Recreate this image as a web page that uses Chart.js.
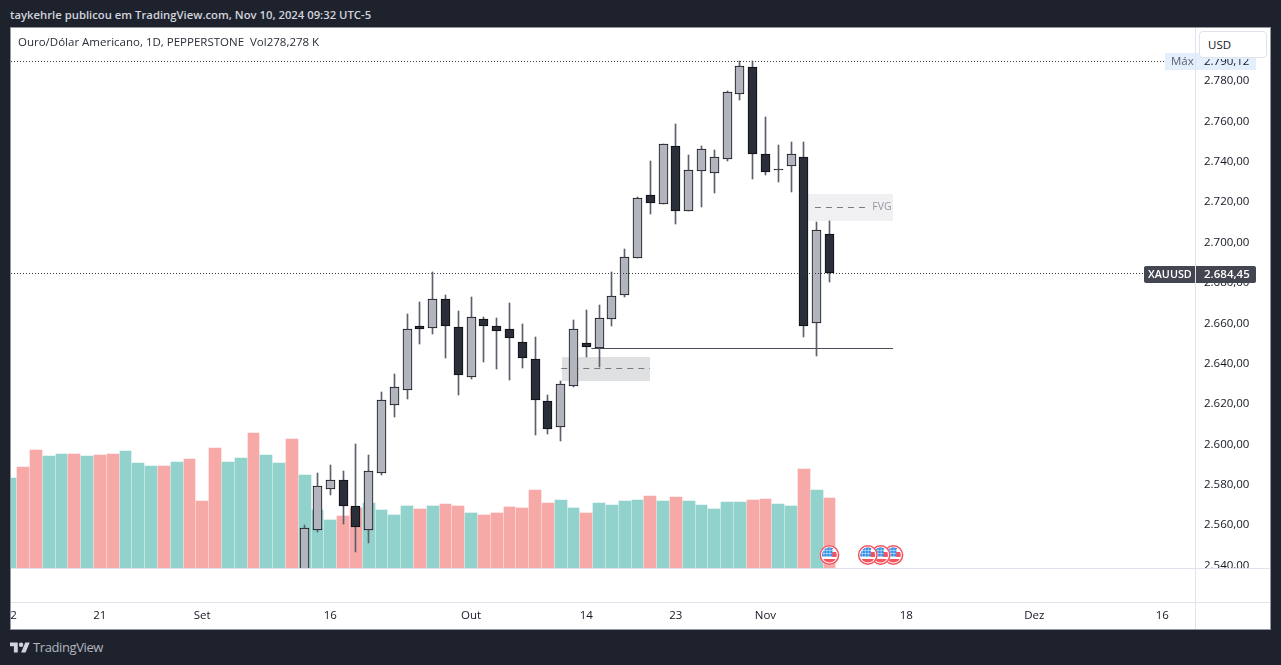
<!DOCTYPE html>
<html lang="pt-BR">
<head>
<meta charset="utf-8">
<title>XAUUSD 1D</title>
<script src="https://cdn.jsdelivr.net/npm/chart.js@4/dist/chart.umd.min.js"></script>
<style>
  html, body { margin: 0; padding: 0; width: 1281px; height: 665px; overflow: hidden; background: #1e222d; font-family: "Open Sans", "Noto Sans", sans-serif; }
  #cabecalho { position: absolute; left: 10px; top: 6px; color: #d1d4dc; font-size: 11.3px; font-weight: 600; line-height: 17px; white-space: nowrap; }
  #painel { position: absolute; left: 10px; top: 27px; width: 1259px; height: 601px; border: 1px solid #9598a1; background: #fff; }
  #painel canvas { display: block; }
  #legenda { position: absolute; left: 7px; top: 5px; color: #2a2e39; font-size: 11.5px; line-height: 18px; white-space: pre; }
  #moeda { position: absolute; left: 1188px; top: 3px; width: 58px; height: 25px; padding-left: 8px; border: 1px solid #e0e3eb; border-radius: 4px; background: #fff; color: #131722; font-size: 11.5px; line-height: 25px; }
  #rodape { position: absolute; left: 10px; top: 639px; height: 17px; color: #b2b5be; font-size: 13px; line-height: 17px; font-weight: 500; white-space: nowrap; }
  #rodape svg { position: absolute; left: 0; top: 1px; }
  #rodape span { position: absolute; left: 23px; top: 0; letter-spacing: -0.4px; }
</style>
</head>
<body>
<div id="cabecalho">taykehrle publicou em TradingView.com, Nov 10, 2024 09:32 UTC-5</div>
<div id="painel">
  <canvas id="grafico" width="1259" height="601"></canvas>
  <div id="legenda">Ouro/Dólar Americano, 1D, PEPPERSTONE  Vol278,278 K</div>
  <div id="moeda">USD</div>
</div>
<div id="rodape">
  <svg width="20" height="16" viewBox="0 0 36 28" fill="#d1d4dc"><path d="M14 22H7V11H0V4h14v18zM28 22h-8l7.5-18h8L28 22z"/><circle cx="20" cy="8" r="4"/></svg>
  <span>TradingView</span>
</div>

<script>
// --- DADOS ---

// Volume (em K) de cada barra, da primeira visivel ate a ultima
const volumes = [
  358, 401, 469, 445, 453, 453, 445, 449, 453, 465, 417, 405, 405, 421, 433, 266, 477, 421, 437, 537, 449, 417,
  513, 370, 231, 191, 207, 239, 258, 231, 211, 246, 235, 246, 254, 246, 219, 211, 219, 242, 239, 310, 258, 270,
  239, 219, 258, 250, 266, 270, 286, 266, 282, 266, 250, 235, 264, 264, 270, 274, 254, 246, 394, 310, 278.278
];
// 1 = barra de alta (verde), 0 = barra de baixa (vermelha)
const volumeAlta = [
  1, 0, 0, 1, 1, 0, 1, 0, 0, 1, 1, 1, 0, 1, 0, 0, 0, 1, 1, 0, 1, 1,
  0, 1, 1, 1, 0, 0, 1, 1, 1, 1, 0, 1, 0, 0, 1, 0, 0, 0, 0, 0, 0, 1,
  1, 0, 1, 1, 1, 1, 0, 1, 0, 1, 1, 1, 1, 1, 0, 0, 1, 1, 0, 1, 0
];

// Velas: so aparecem a partir da barra 23, as anteriores ficam abaixo da escala
const primeiraVela = 23;
const aberturas = [
  2532.4, 2557.3, 2577.6, 2581.7, 2568.9, 2557.0, 2585.5, 2618.9, 2626.3, 2658.0, 2657.0, 2671.4, 2657.5, 2632.8,
  2661.5, 2658.0, 2656.5, 2650.1, 2641.7, 2620.9, 2608.0, 2628.3, 2649.6, 2647.1, 2661.5, 2673.4, 2691.7, 2722.9,
  2718.4, 2747.2, 2715.0, 2734.8, 2733.8, 2740.7, 2772.9, 2786.3, 2743.2, 2736.0, 2737.3, 2741.7, 2659.5, 2703.6
];
const maximos = [
  2559.6, 2585.4, 2589.3, 2586.3, 2599.7, 2594.3, 2625.5, 2634.4, 2664.1, 2670.0, 2684.8, 2673.5, 2665.6, 2672.5,
  2662.6, 2662.1, 2669.5, 2659.1, 2652.7, 2624.0, 2630.8, 2661.1, 2666.1, 2668.4, 2684.8, 2696.1, 2722.1, 2739.9,
  2748.2, 2758.2, 2742.7, 2747.2, 2745.2, 2774.4, 2789.2, 2789.2, 2761.5, 2747.7, 2749.1, 2749.1, 2709.5, 2710.0
];
const minimos = [
  2527.4, 2556.3, 2574.5, 2560.1, 2546.2, 2550.7, 2584.4, 2613.2, 2622.2, 2649.4, 2654.3, 2642.5, 2624.1, 2632.1,
  2640.5, 2637.0, 2631.6, 2637.5, 2604.3, 2604.8, 2601.3, 2627.8, 2642.8, 2638.0, 2658.3, 2672.7, 2691.7, 2713.8,
  2718.4, 2708.5, 2715.0, 2716.9, 2724.2, 2739.7, 2770.2, 2731.1, 2732.8, 2729.3, 2724.4, 2652.6, 2643.2, 2680.1
];
const fechamentos = [
  2558.0, 2578.8, 2581.7, 2568.9, 2558.5, 2586.2, 2621.4, 2627.8, 2656.5, 2656.5, 2671.4, 2658.0, 2633.7, 2662.5,
  2658.0, 2655.5, 2652.1, 2642.2, 2621.4, 2607.0, 2629.3, 2656.5, 2647.6, 2662.0, 2672.9, 2692.2, 2721.4, 2718.9,
  2748.2, 2715.0, 2735.3, 2745.7, 2741.7, 2773.9, 2786.8, 2743.2, 2734.3, 2735.5, 2743.2, 2658.0, 2705.6, 2684.45
];

// Eixos
const precoTicks = [2540, 2560, 2580, 2600, 2620, 2640, 2660, 2680, 2700, 2720, 2740, 2760, 2780];
const tempoTicks = [0, 7, 15, 25, 36, 45, 52, 59, 70, 80, 90];
const tempoRotulos = ['12', '21', 'Set', '16', 'Out', '14', '23', 'Nov', '18', 'Dez', '16'];
const tempoMin = 0.0625, tempoMax = 92.56;
const precoMin = 2538.3, precoMax = 2805.76;
const volumeMax = 2146.5;

// Marcacoes desenhadas no grafico
const zonaFvg = [62.33, 68.97, 2710.3, 2723.5];
const tracoFvg = [62.87, 66.8, 2717.1];
const zonaCinza = [43.1, 49.98, 2630.9, 2642.8];
const tracoCinza = [43.05, 49.98, 2637.2];
const linhaSuporte = [45.4, 68.97, 2647.5];
const precoAtual = 2684.45;
const precoMaximo = 2789.2;
const rotuloMaximo = '2.790,12';
const eventos = [69, 68, 67, 64];

const CORES = {
  alta: '#b2b5be', baixa: '#2a2e39', borda: '#0b0d13', pavio: '#5d606b',
  volAlta: '#92d2cc', volBaixa: '#f7a9a7', separador: '#e0e3eb', texto: '#131722', etiqueta: '#434651', azul: '#e3effd'
};

function formatarPreco(v) {
  return v.toLocaleString('pt-BR', { minimumFractionDigits: 2, maximumFractionDigits: 2 });
}

function indiceVela(k) { return primeiraVela + k; }

// --- PLUGIN DAS MARCACOES ---

function linhaH(ctx, x0, x1, y, cor, traco) {
  ctx.save();
  ctx.strokeStyle = cor;
  ctx.lineWidth = 1;
  ctx.setLineDash(traco || []);
  ctx.beginPath();
  ctx.moveTo(x0, Math.round(y) + 0.5);
  ctx.lineTo(x1, Math.round(y) + 0.5);
  ctx.stroke();
  ctx.restore();
}

function desenharZona(chart, zona, cor) {
  const { x, y } = chart.scales;
  const ctx = chart.ctx;
  const x0 = Math.round(x.getPixelForValue(zona[0]));
  const x1 = Math.round(x.getPixelForValue(zona[1]));
  const y0 = Math.round(y.getPixelForValue(zona[3]));
  const y1 = Math.round(y.getPixelForValue(zona[2]));
  ctx.fillStyle = cor;
  ctx.fillRect(x0, y0, x1 - x0, y1 - y0);
}

function desenharTraco(chart, t, cor, traco) {
  const { x, y } = chart.scales;
  linhaH(chart.ctx, x.getPixelForValue(t[0]), x.getPixelForValue(t[1]), y.getPixelForValue(t[2]), cor, traco);
}

function desenharBandeira(ctx, cx, cy) {
  ctx.save();
  ctx.beginPath();
  ctx.arc(cx, cy, 10, 0, Math.PI * 2);
  ctx.fillStyle = '#fff';
  ctx.fill();
  ctx.strokeStyle = '#f2525f';
  ctx.lineWidth = 1.5;
  ctx.beginPath();
  ctx.arc(cx, cy, 9.2, 0, Math.PI * 2);
  ctx.stroke();
  ctx.beginPath();
  ctx.arc(cx, cy, 7.4, 0, Math.PI * 2);
  ctx.clip();
  ctx.fillStyle = '#fff';
  ctx.fillRect(cx - 8, cy - 8, 16, 16);
  ctx.fillStyle = '#f7525f';
  ctx.fillRect(cx - 8, cy - 8, 16, 2);
  ctx.fillRect(cx - 8, cy - 3, 16, 5);
  ctx.fillRect(cx - 8, cy + 4, 16, 4);
  ctx.fillStyle = '#2f8fe8';
  ctx.fillRect(cx - 8, cy - 8, 11, 10);
  ctx.fillStyle = 'rgba(255,255,255,0.45)';
  for (let i = -6; i < 3; i += 3) ctx.fillRect(cx + i, cy - 8, 1, 10);
  for (let j = -5; j < 2; j += 3) ctx.fillRect(cx - 8, cy + j, 11, 1);
  ctx.restore();
}

function etiqueta(ctx, x, y, l, a, fundo) {
  ctx.fillStyle = fundo;
  ctx.beginPath();
  ctx.roundRect(x, y, l, a, 2);
  ctx.fill();
}

const marcacoes = {
  id: 'marcacoes',
  // Alinha as barras ao pixel, como no original
  afterDatasetsUpdate(chart) {
    chart.data.datasets.forEach((ds, i) => {
      chart.getDatasetMeta(i).data.forEach(el => {
        if (ds.label === 'Vol') {
          // 1px branco entre as barras de volume, mesmo quando o passo arredonda para 12
          const esq = Math.round(el.x - 5.75);
          const dir = Math.round(el.x + 7.05) - 1;
          el.x = (esq + dir) / 2;
          el.width = dir - esq;
        } else {
          el.x = Math.round(el.x - el.width / 2) + el.width / 2;
        }
        el.y = Math.round(el.y);
        el.base = Math.round(el.base);
        if (el.base === el.y) el.base = el.y + 1;
        el.height = el.base - el.y;
      });
    });
  },
  beforeDraw(chart) {
    // Rotulos do eixo de preco 1px abaixo do centro do tick
    chart.scales.y.getLabelItems().forEach(it => { it.options.translation[1] += 1; });
  },
  beforeDatasetsDraw(chart) {
    const ctx = chart.ctx;
    desenharZona(chart, zonaFvg, '#f0f0f3');
    desenharZona(chart, zonaCinza, '#dfe0e2');
    desenharTraco(chart, tracoFvg, '#787b86', [6, 5]);
    desenharTraco(chart, tracoCinza, '#787b86', [6, 5]);
    desenharTraco(chart, linhaSuporte, '#4a4c57');
    const { x, y } = chart.scales;
    ctx.fillStyle = '#9598a1';
    ctx.font = '10.5px "Open Sans"';
    ctx.textAlign = 'left';
    ctx.textBaseline = 'middle';
    ctx.fillText('FVG', x.getPixelForValue(tracoFvg[1]) + 7, y.getPixelForValue(tracoFvg[2]) + 0.5);
  },
  afterDatasetsDraw(chart) {
    const { x, y } = chart.scales;
    const area = chart.chartArea;
    const ctx = chart.ctx;
    linhaH(ctx, area.left, area.right, y.getPixelForValue(precoMaximo), '#363a45', [1, 2]);
    linhaH(ctx, area.left, area.right, y.getPixelForValue(precoAtual), '#363a45', [1, 2]);
    eventos.forEach(i => desenharBandeira(ctx, x.getPixelForValue(i), area.bottom - 13));
  },
  afterDraw(chart) {
    const { y } = chart.scales;
    const area = chart.chartArea;
    const ctx = chart.ctx;
    const largura = chart.width;
    // Rotulo de 2.540,00 fica cortado pela divisao do painel
    ctx.fillStyle = '#fff';
    ctx.fillRect(area.right, area.bottom, largura - area.right, 34);
    ctx.fillStyle = CORES.separador;
    ctx.fillRect(0, area.bottom, largura, 1);
    ctx.fillRect(0, area.bottom + 34, largura, 1);

    ctx.textBaseline = 'middle';
    ctx.textAlign = 'left';

    // Etiqueta do maximo: o topo do valor some atras do botao USD
    const yMax = Math.round(y.getPixelForValue(precoMaximo));
    ctx.font = '11.5px "Open Sans"';
    ctx.fillStyle = CORES.azul;
    ctx.fillRect(area.right - 30, yMax - 8, 91, 17);
    ctx.fillStyle = '#5d606b';
    ctx.fillText('Máx', area.right - 24, yMax + 1);
    ctx.save();
    ctx.beginPath();
    ctx.rect(area.right, yMax - 2, 75, 12);
    ctx.clip();
    ctx.fillStyle = CORES.texto;
    ctx.fillText(rotuloMaximo, area.right + 9, yMax + 1);
    ctx.restore();

    // Etiqueta do preco atual
    const yAtual = Math.round(y.getPixelForValue(precoAtual));
    etiqueta(ctx, area.right - 51, yAtual - 7, 112, 17, CORES.etiqueta);
    ctx.fillStyle = '#fff';
    ctx.font = '600 10.8px "Open Sans"';
    ctx.fillText('XAUUSD', area.right - 47, yAtual + 1.5);
    ctx.font = '600 11.5px "Open Sans"';
    ctx.fillText(formatarPreco(precoAtual), area.right + 9, yAtual + 1.5);

    // Divisao do eixo de preco, por cima das etiquetas
    ctx.fillStyle = CORES.separador;
    ctx.fillRect(area.right, 0, 1, chart.height);
  }
};

// --- GRAFICO ---

const dadosVolume = volumes.map((v, i) => ({ x: i, y: v }));
const dadosPavio = maximos.map((h, k) => ({ x: indiceVela(k), y: [minimos[k], h] }));
const dadosCorpo = aberturas.map((a, k) => ({ x: indiceVela(k), y: [a, fechamentos[k]] }));

new Chart(document.getElementById('grafico').getContext('2d'), {
  type: 'bar',
  data: {
    datasets: [
      {
        label: 'Corpo', data: dadosCorpo, yAxisID: 'y', barThickness: 9, grouped: false, clip: 0,
        backgroundColor: aberturas.map((a, k) => fechamentos[k] >= a ? CORES.alta : CORES.baixa),
        borderColor: CORES.borda, borderWidth: 1, borderSkipped: false
      },
      {
        label: 'Pavio', data: dadosPavio, yAxisID: 'y', barThickness: 1, grouped: false, clip: 0,
        backgroundColor: CORES.pavio, borderWidth: 0
      },
      {
        label: 'Vol', data: dadosVolume, yAxisID: 'yVol', barThickness: 12, grouped: false, clip: 0,
        backgroundColor: volumeAlta.map(a => a ? CORES.volAlta : CORES.volBaixa), borderWidth: 0
      }
    ]
  },
  options: {
    responsive: false,
    animation: false,
    devicePixelRatio: 1,
    layout: { padding: 0 },
    plugins: { legend: { display: false }, tooltip: { enabled: false } },
    scales: {
      x: {
        type: 'linear',
        offset: false,
        min: tempoMin,
        max: tempoMax,
        grid: { display: false, drawTicks: false, offset: false },
        border: { display: false },
        afterBuildTicks: s => { s.ticks = tempoTicks.map(value => ({ value })); },
        afterFit: s => { s.height = 61; s.paddingLeft = 0; s.paddingRight = 0; },
        ticks: {
          autoSkip: false,
          maxRotation: 0,
          padding: 41,
          color: CORES.texto,
          font: { family: '"Open Sans"', size: 11.5 },
          callback: v => tempoRotulos[tempoTicks.indexOf(v)]
        }
      },
      y: {
        position: 'right',
        min: precoMin,
        max: precoMax,
        grid: { display: false, drawTicks: false },
        border: { display: false },
        afterBuildTicks: s => { s.ticks = precoTicks.map(value => ({ value })); },
        afterFit: s => { s.width = 75; s.paddingTop = 0; s.paddingBottom = 0; },
        ticks: {
          padding: 9,
          color: CORES.texto,
          font: { family: '"Open Sans"', size: 11.5 },
          callback: v => formatarPreco(v)
        }
      },
      yVol: { display: false, min: 0, max: volumeMax }
    }
  },
  plugins: [marcacoes]
});
</script>
</body>
</html>
